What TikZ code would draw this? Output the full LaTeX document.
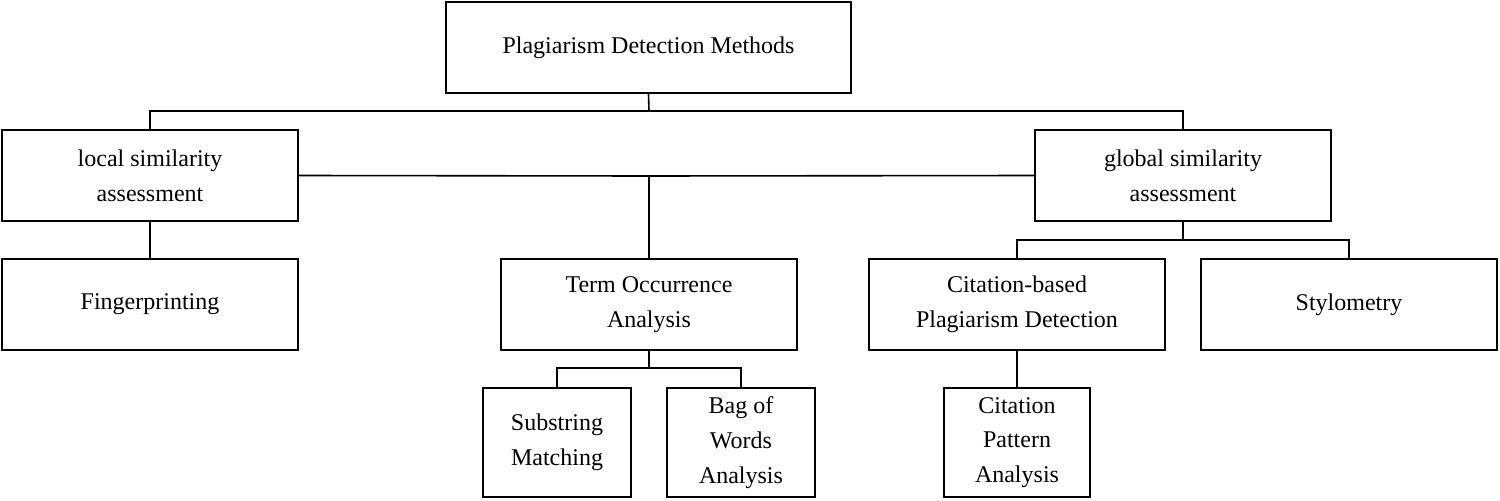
\documentclass[tikz,border=0pt]{standalone}
\usepackage{fontspec}
\setmainfont{Liberation Serif}
\begin{document}
\begin{tikzpicture}[x=0.75pt,y=-0.75pt,
  box/.style={draw,line width=1.2pt,rectangle,inner sep=0pt,align=center,font=\fontsize{18}{26}\selectfont},
  ln/.style={line width=1.2pt}]
\useasboundingbox (0,0) rectangle (1500,500);
\newcommand{\bx}[6]{\node[box,minimum width={(#4-#2)*0.75pt},minimum height={(#5-#3)*0.75pt}] (#1) at ({(#2+#4)/2},{(#3+#5)/2}) {#6};}
\bx{top}{446}{2}{851}{93}{Plagiarism Detection Methods}
\bx{loc}{2}{130}{298}{221}{local similarity\\assessment}
\bx{glo}{1035}{130}{1331}{221}{global similarity\\assessment}
\bx{fin}{2}{259}{298}{350}{Fingerprinting}
\bx{ter}{501}{259}{797}{350}{Term Occurrence\\Analysis}
\bx{cit}{869}{259}{1165}{350}{Citation-based\\Plagiarism Detection}
\bx{sty}{1201}{259}{1497}{350}{Stylometry}
\bx{sub}{483}{388}{631}{497}{Substring\\Matching}
\bx{bag}{667}{388}{815}{497}{Bag of\\Words\\Analysis}
\bx{cpa}{944}{388}{1090}{497}{Citation\\Pattern\\Analysis}
\coordinate (j1) at (649,176);
\draw[ln] (top.south) -- (649,111) -| (loc.north);
\draw[ln] (649,111) -| (glo.north);
\draw[ln] (loc.east) -- (j1) -- (glo.west);
\draw[ln] (j1) -- (ter.north);
\draw[ln] (loc.south) -- (fin.north);
\draw[ln] (glo.south) -- (1183,240) -| (cit.north);
\draw[ln] (1183,240) -| (sty.north);
\draw[ln] (ter.south) -- (649,368) -| (sub.north);
\draw[ln] (649,368) -| (bag.north);
\draw[ln] (cit.south) -- (cpa.north);
\end{tikzpicture}
\end{document}
